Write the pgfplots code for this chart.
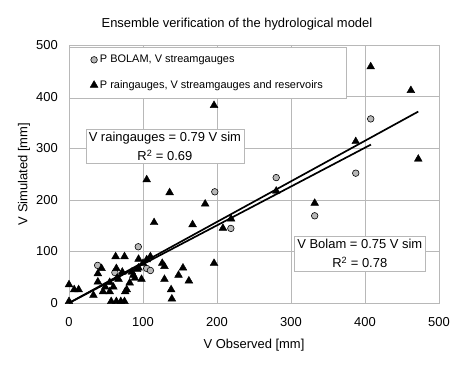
\documentclass[border=0pt]{standalone}
\usepackage{fontspec}
\setmainfont{Liberation Sans}
\usepackage{pgfplots}
\pgfplotsset{compat=1.18}
\definecolor{gridgray}{gray}{0.72}
\definecolor{markgray}{gray}{0.72}
\begin{document}
\begin{tikzpicture}
\begin{axis}[
  name=ax,
  scale only axis,
  width=370bp, height=258bp,
  xmin=0, xmax=500, ymin=0, ymax=500,
  xtick={0,100,...,500}, ytick={0,100,...,500},
  grid=major,
  major grid style={gridgray, line width=0.6pt},
  axis line style={gridgray, line width=0.8pt},
  tick style={draw=none},
  /pgf/number format/assume math mode=true,
  ticklabel style={font=\fontsize{13}{15}\selectfont},
  yticklabel style={anchor=east, inner sep=0pt, xshift=-11bp},
  xticklabel style={anchor=north, inner sep=0pt, yshift=-14bp},
  xlabel={V Observed [mm]},
  ylabel={V Simulated [mm]},
  every axis x label/.style={at={(axis description cs:0.5,-0.163)}, anchor=center, font=\fontsize{13}{15}\selectfont},
  every axis y label/.style={at={(axis description cs:-0.1216,0.5)}, rotate=90, anchor=center, font=\fontsize{13}{15}\selectfont},
  legend style={at={(0,0.992)}, anchor=north west, draw=gridgray, fill=white,
    font=\fontsize{11}{13}\selectfont, inner xsep=21bp, inner ysep=6bp, row sep=12bp},
  legend cell align=left,
  clip=false,
]
\addplot[only marks, mark=*, mark size=3.3pt, mark options={fill=markgray, draw=black, line width=0.6pt}] coordinates {
(38.7,72.9) (62,59) (93.6,109) (105,67) (110,63) (197,215.5) (218.7,144.5)
(280,243) (332,169) (387.5,251.6) (407.7,356.8)
};
\addlegendentry{P BOLAM, V streamgauges}
\addplot[only marks, mark=triangle*, mark size=4.5pt, mark options={fill=black, draw=black}] coordinates {
(0,35.5) (0,3) (7,26) (13,26) (33,15) (39,57) (44,67) (39,41) (49,31)
(57,3) (64,3) (70,3) (75,3) (63,90) (75,90) (64,67) (60,31) (67,46) (72,60)
(78,26) (82,39) (87,54) (92,65) (94,68) (94,85) (98,46) (100,77) (105,84)
(110,90) (105,239) (115,156) (136,214) (126,77) (129,71) (129,46) (138,26)
(139,8) (148,54) (154,68) (162,43) (167,152) (184,192) (196,383) (196,77)
(208,145) (219,163) (280,217) (332,193.5) (387.5,313) (407.7,458) (462,412)
(472,279) (46,22) (55,22) (76,22) (55,40) (85,60) (89,48) (65,48)
};
\addlegendentry{P raingauges, V streamgauges and reservoirs}
\addplot[black, line width=1.7pt, forget plot] coordinates {(0,0) (472,371)};
\addplot[black, line width=1.7pt, forget plot] coordinates {(0,0) (408,307)};
\node[draw=gridgray, fill=white, align=center, inner xsep=3bp, inner ysep=3bp,
  font=\fontsize{13}{19}\selectfont] at (axis cs:129.6,303.5)
  {V raingauges = 0.79 V sim\\R\textsuperscript{2} = 0.69};
\node[draw=gridgray, fill=white, align=center, inner xsep=3bp, inner ysep=3bp,
  font=\fontsize{13}{19}\selectfont] at (axis cs:393,95.4)
  {V Bolam = 0.75 V sim\\R\textsuperscript{2} = 0.78};
\node[anchor=base, font=\fontsize{13}{15}\selectfont] at (axis description cs:0.454,1.0686)
  {Ensemble verification of the hydrological model};
\end{axis}
\pgfresetboundingbox
\path ([xshift=-69bp,yshift=-66bp]ax.south west) rectangle ([xshift=35bp,yshift=45bp]ax.north east);
\end{tikzpicture}
\end{document}
